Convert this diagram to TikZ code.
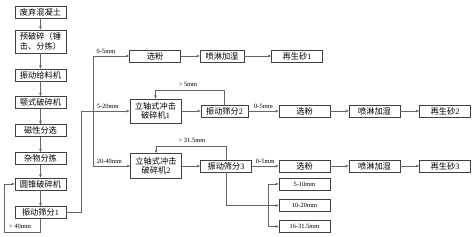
\documentclass[tikz,border=0pt]{standalone}
\usepackage{fontspec}
\setmainfont{Liberation Serif}
\newfontfamily\cjk{Noto Sans CJK SC}
\usetikzlibrary{arrows.meta}

\begin{document}
\begin{tikzpicture}[x=0.03cm, y=-0.03cm,
    every node/.style={inner sep=0pt},
    box/.style={draw=black!75, line width=0.5pt, font=\fontsize{7}{8}\selectfont\cjk, minimum width=1.53cm, minimum height=0.36cm},
    lbl/.style={font=\fontsize{5.5}{6.5}\selectfont},
    arrow/.style={-{Stealth[length=3pt,width=2.4pt]}, draw=black!60, line width=0.45pt},
    line/.style={draw=black!60, line width=0.45pt}
]

\useasboundingbox (0,0) rectangle (474,237);

% left column
\node[box] (waste) at (40.5,12) {废弃混凝土};
\node[box, minimum height=0.69cm, align=left] (pre) at (40.5,41.5) {预破碎（锤\\击、分拣）};
\node[box] (feeder) at (40.5,75) {振动给料机};
\node[box] (jaw) at (40.5,102.5) {颚式破碎机};
\node[box] (mag) at (40.5,130.5) {磁性分选};
\node[box] (sort) at (40.5,158.5) {杂物分拣};
\node[box] (cone) at (40.5,184) {圆锥破碎机};
\node[box] (sc1) at (40.5,212.5) {振动筛分{\rmfamily 1}};

\draw[arrow] (waste) -- (pre);
\draw[arrow] (pre) -- (feeder);
\draw[arrow] (feeder) -- (jaw);
\draw[arrow] (jaw) -- (mag);
\draw[arrow] (mag) -- (sort);
\draw[arrow] (sort) -- (cone);
\draw[arrow] (cone) -- (sc1);

\coordinate (back) at (4,232);
\draw[arrow] (sc1.south) |- (back) |- (cone.west);
\node[lbl] (over40) at (20,226) {> 40mm};

% row 1
\node[box] (pow1) at (155,56) {选粉};
\node[box, minimum width=1.32cm] (wet1) at (222,56) {喷淋加湿};
\node[box] (sand1) at (297,56) {再生砂{\rmfamily 1}};

% row 2
\node[box, minimum height=0.72cm, align=center] (vsi1) at (155.5,111) {立轴式冲击\\破碎机{\rmfamily 1}};
\node[box, minimum width=1.41cm] (sc2) at (224.5,111) {振动筛分{\rmfamily 2}};
\node[box] (pow2) at (304.5,111) {选粉};
\node[box] (wet2) at (374.5,111) {喷淋加湿};
\node[box] (sand2) at (445,111) {再生砂{\rmfamily 2}};

% row 3
\node[box, minimum height=0.75cm, align=center] (vsi2) at (156,166) {立轴式冲击\\破碎机{\rmfamily 2}};
\node[box] (sc3) at (226,166) {振动筛分{\rmfamily 3}};
\node[box] (pow3) at (304.5,166) {选粉};
\node[box] (wet3) at (374.5,166) {喷淋加湿};
\node[box] (sand3) at (445,166) {再生砂{\rmfamily 3}};

\node[box, font=\fontsize{5.5}{6.5}\selectfont] (g1) at (304.5,184) {5-10mm};
\node[box, font=\fontsize{5.5}{6.5}\selectfont] (g2) at (304.5,205.5) {10-20mm};
\node[box, font=\fontsize{5.5}{6.5}\selectfont] (g3) at (304.5,226.5) {16-31.5mm};

% distribution from sc1
\coordinate (j1) at (81,111);
\coordinate (j2) at (93,111);
\draw[line] (sc1.east) -| (j1);
\draw[arrow] (j1) -- node[lbl, above=2pt, pos=0.55] {5-20mm} (vsi1.west);
\draw[arrow] (j2) |- node[lbl, above=2pt, pos=0.68] {0-5mm} (pow1.west);
\draw[arrow] (j2) |- node[lbl, above=2pt, pos=0.72] {20-40mm} (vsi2.west);

\draw[arrow] (pow1) -- (wet1);
\draw[arrow] (wet1) -- (sand1);

\draw[arrow] (vsi1) -- (sc2);
\draw[arrow] (sc2) -- node[lbl, above=2pt] {0-5mm} (pow2);
\draw[arrow] (pow2) -- (wet2);
\draw[arrow] (wet2) -- (sand2);
\coordinate (r5) at (155.5,90);
\draw[arrow] (sc2.north) |- (r5) -- (vsi1.north);
\node[lbl] (over5) at (188,84) {> 5mm};

\draw[arrow] (vsi2) -- (sc3);
\draw[arrow] (sc3) -- node[lbl, above=2pt] {0-5mm} (pow3);
\draw[arrow] (pow3) -- (wet3);
\draw[arrow] (wet3) -- (sand3);
\coordinate (r31) at (156,146);
\draw[arrow] (sc3.north) |- (r31) -- (vsi2.north);
\node[lbl] (over31) at (192,140) {> 31.5mm};

\coordinate (fork) at (268,205.5);
\draw[line] (sc3.south) |- (fork);
\draw[arrow] (fork) |- (g1.west);
\draw[arrow] (fork) -- (g2.west);
\draw[arrow] (fork) |- (g3.west);

\end{tikzpicture}
\end{document}
